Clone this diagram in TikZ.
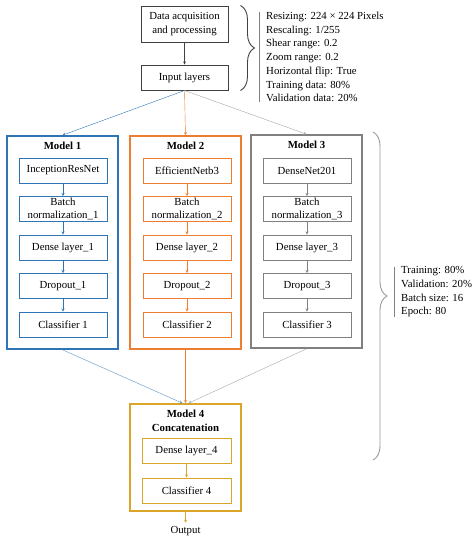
\documentclass[tikz,border=0pt]{standalone}
\usepackage{fontspec}
\setmainfont{Liberation Serif}
\usepackage{xcolor}
\usepackage{tikz}
\usetikzlibrary{decorations.pathreplacing}
\definecolor{mblue}{RGB}{46,117,182}
\definecolor{morange}{RGB}{237,125,49}
\definecolor{mgray}{RGB}{128,128,128}
\definecolor{mgold}{RGB}{218,165,40}
\definecolor{mdark}{RGB}{64,64,64}

\begin{document}
\begin{tikzpicture}[x=1pt, y=-1pt, >=stealth,
    every node/.style={font=\fontsize{10.8}{13.7}\selectfont},
    title/.style={font=\fontsize{10.8}{13.7}\selectfont\bfseries, align=center},
    topbox/.style={draw=mdark, line width=1pt, minimum width=87pt, inner sep=0pt, align=center},
    outer/.style={draw, line width=1.6pt, minimum width=111pt, inner sep=0pt},
    layer/.style={draw, line width=0.8pt, minimum width=88pt, minimum height=25pt, inner sep=0pt, align=center},
    params/.style={align=left, inner xsep=7pt, inner ysep=0pt, anchor=west},
    bracket/.style={decorate, decoration={brace, amplitude=14pt}, line width=0.9pt}
]
                \useasboundingbox (0,0) rectangle (474,541);
                % input stage
                \node [topbox, minimum height=36pt] (data) at (184.5,24) {Data acquisition\\and processing};
                \node [topbox, minimum height=25pt] (input) at (184.5,77.5) {Input layers};
                \draw [->, mdark] (data) -- (input);
                \draw [bracket, mdark] ([xshift=12pt]data.north east) -- ([xshift=12pt]input.south east);
                \node [params] (aug) at (259,57) {Resizing: 224 × 224 Pixels\\Rescaling: 1/255\\Shear range: 0.2\\Zoom range: 0.2\\Horizontal flip: True\\Training data: 80\%\\Validation data: 20\%};
                \draw [mgray, line width=0.8pt] (aug.north west) -- (aug.south west);
                % model 1
                \node [outer, draw=mblue, minimum height=213pt] (m1) at (62.5,242.5) {};
                \node [title] (t1) at (62.5,146) {Model 1};
                \node [layer, draw=mblue] (inc) at (63,170.5) {InceptionResNet};
                \node [layer, draw=mblue] (bn1) at (63,209) {Batch\\normalization\_1};
                \node [layer, draw=mblue] (dl1) at (63,247.5) {Dense layer\_1};
                \node [layer, draw=mblue] (do1) at (63,286) {Dropout\_1};
                \node [layer, draw=mblue] (cl1) at (63,324.5) {Classifier 1};
                \draw [->, mblue] (inc) -- (bn1);
                \draw [->, mblue] (bn1) -- (dl1);
                \draw [->, mblue] (dl1) -- (do1);
                \draw [->, mblue] (do1) -- (cl1);
                % model 2
                \node [outer, draw=morange, minimum height=213pt] (m2) at (185.5,242.5) {};
                \node [title] (t2) at (185.5,146) {Model 2};
                \node [layer, draw=morange] (eff) at (187,170.5) {EfficientNetb3};
                \node [layer, draw=morange] (bn2) at (187,209) {Batch\\normalization\_2};
                \node [layer, draw=morange] (dl2) at (187,247.5) {Dense layer\_2};
                \node [layer, draw=morange] (do2) at (187,286) {Dropout\_2};
                \node [layer, draw=morange] (cl2) at (187,324.5) {Classifier 2};
                \draw [->, morange] (eff) -- (bn2);
                \draw [->, morange] (bn2) -- (dl2);
                \draw [->, morange] (dl2) -- (do2);
                \draw [->, morange] (do2) -- (cl2);
                % model 3
                \node [outer, draw=mgray, minimum height=213pt] (m3) at (306.5,241.5) {};
                \node [title] (t3) at (306.5,145) {Model 3};
                \node [layer, draw=mgray] (den) at (307,170.5) {DenseNet201};
                \node [layer, draw=mgray] (bn3) at (307,209) {Batch\\normalization\_3};
                \node [layer, draw=mgray] (dl3) at (307,247.5) {Dense layer\_3};
                \node [layer, draw=mgray] (do3) at (307,286) {Dropout\_3};
                \node [layer, draw=mgray] (cl3) at (307,324.5) {Classifier 3};
                \draw [->, mgray] (den) -- (bn3);
                \draw [->, mgray] (bn3) -- (dl3);
                \draw [->, mgray] (dl3) -- (do3);
                \draw [->, mgray] (do3) -- (cl3);
                % input to models
                \draw [->, mblue] (input.south) -- (m1.north);
                \draw [->, morange] (input.south) -- (m2.north);
                \draw [->, mgray!70] (input.south) -- (m3.north);
                % training settings
                \draw [bracket, mgray!80] (373,132) -- (373,460);
                \node [params] (train) at (394,292) {Training: 80\%\\Validation: 20\%\\Batch size: 16\\Epoch: 80};
                \draw [mgray, line width=0.8pt] (train.north west) -- (train.south west);
                % model 4
                \node [outer, draw=mgold, minimum height=107pt] (m4) at (185.5,457.5) {};
                \node [title] (t4) at (185.5,420.5) {Model 4\\Concatenation};
                \node [layer, draw=mgold, minimum width=89pt] (dl4) at (186.5,451) {Dense layer\_4};
                \node [layer, draw=mgold, minimum width=89pt] (cl4) at (186.5,490.5) {Classifier 4};
                \draw [->, mgold] (dl4) -- (cl4);
                \draw [->, mblue!80] (m1.south) -- ([xshift=-3pt]m4.north);
                \draw [->, morange] (m2.south) -- (m4.north);
                \draw [->, mgray!70] (m3.south) -- ([xshift=3pt]m4.north);
                \node (out) at (185.5,531) {Output};
                \draw [->, mgold] (m4.south) -- (out);
            \end{tikzpicture}
\end{document}
